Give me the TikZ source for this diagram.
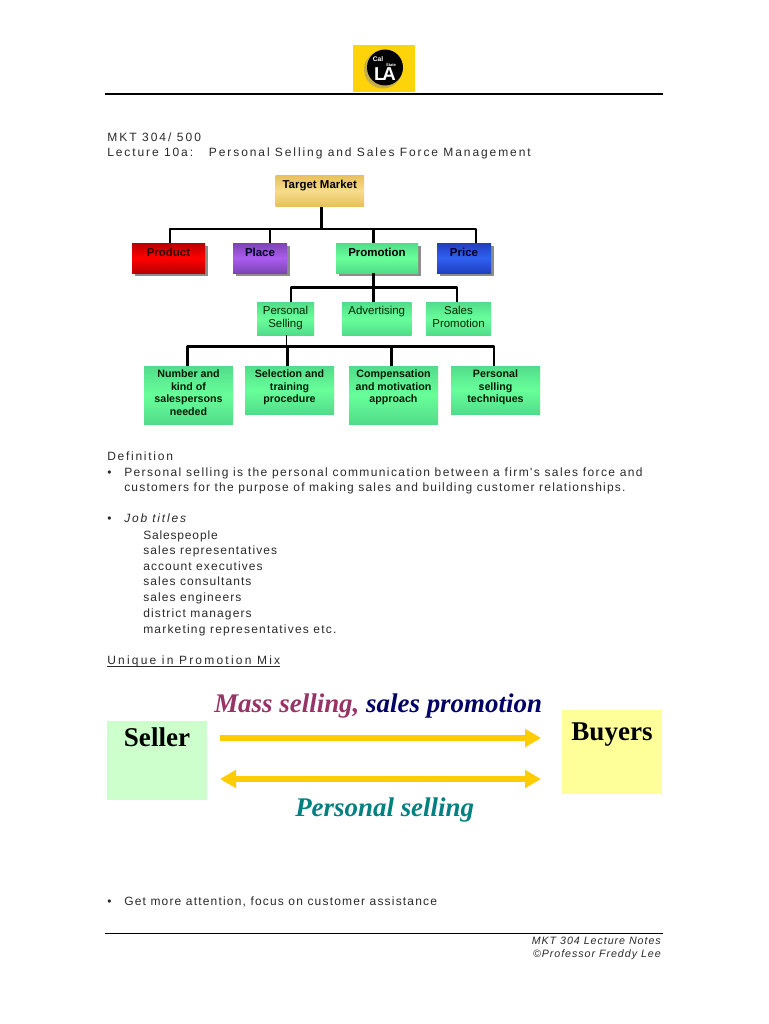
\documentclass[tikz,border=0pt]{standalone}
\usepackage{fontspec}
\usetikzlibrary{arrows.meta,shadows}
\setmainfont{Liberation Sans}
\newfontfamily\bodyf{Liberation Sans}
\newfontfamily\boxf{Liberation Sans}
\newfontfamily\serf{Liberation Serif}
\newcommand{\bxt}[4]{\parbox[c][\dimexpr #2pt*3/4\relax][t]{\dimexpr #1pt*3/4\relax}{\vspace*{\dimexpr #3pt*3/4\relax}\centering #4\par}}
\definecolor{bodyc}{HTML}{2A2A2A}
\tikzset{
  body/.style={anchor=base west,inner sep=0pt,font=\bodyf\fontsize{9pt}{11pt}\selectfont\addfontfeature{LetterSpace=#1},text=bodyc},
  body/.default=10,
  foot/.style={anchor=base east,inner sep=0pt,font=\bodyf\itshape\fontsize{8pt}{10pt}\selectfont\addfontfeature{LetterSpace=9},text=bodyc},
  conn/.style={draw=black,line width=1.8pt,line join=round},
  thinconn/.style={draw=black,line width=.8pt},
  tbox/.style={anchor=north west,inner sep=0pt,outer sep=0pt,text=black},
  mix/.style={font=\boxf\bfseries\fontsize{8.6pt}{10pt}\selectfont},
  shadowed/.style={drop shadow={shadow xshift=2.2pt,shadow yshift=-2.2pt,fill=black,opacity=.45}},
  gold/.style={tbox,mix,top color=gold1,bottom color=gold1,middle color=gold2,shading angle=0},
  redb/.style={tbox,mix,shadowed,top color=red2,bottom color=red2,middle color=red,text=black!80!red},
  purb/.style={tbox,mix,shadowed,top color=pur1,bottom color=pur1,middle color=pur2,text=black!85!blue},
  grnb/.style={tbox,mix,shadowed,top color=grn1,bottom color=grn1,middle color=grn2},
  blub/.style={tbox,mix,shadowed,top color=blu1,bottom color=blu1,middle color=blu2,text=black!85!blue},
  lite/.style={tbox,top color=grn1,bottom color=grn1,middle color=grn2,font=\boxf\fontsize{8.6pt}{9.9pt}\selectfont,text=black!85!green},
  deep/.style={tbox,font=\boxf\bfseries\fontsize{8pt}{9.6pt}\selectfont,top color=grn1,bottom color=grn1,middle color=grn2,text=black!90!green},
  bigbox/.style={tbox,font=\serf\bfseries\fontsize{20.3pt}{24pt}\selectfont},
  fatarrow/.style={draw=arrowc,line width=3.9pt},
  bigword/.style={inner sep=0pt,anchor=base west,font=\serf\bfseries\itshape\fontsize{20.2pt}{24pt}\selectfont}
}
\definecolor{gold1}{HTML}{E8C05A}\definecolor{gold2}{HTML}{F6DC8C}
\definecolor{red2}{HTML}{B80000}
\definecolor{pur1}{HTML}{7B44B4}\definecolor{pur2}{HTML}{AC5CF0}
\definecolor{grn1}{HTML}{52DC8A}\definecolor{grn2}{HTML}{68FF9A}
\definecolor{blu1}{HTML}{1F3FC0}\definecolor{blu2}{HTML}{3060F0}
\definecolor{arrowc}{HTML}{FFCC00}
\definecolor{logoy}{HTML}{FFD30A}
\definecolor{massc}{HTML}{993366}\definecolor{navyc}{HTML}{000066}\definecolor{tealc}{HTML}{008080}
\definecolor{sellc}{HTML}{CCFFCC}\definecolor{buyc}{HTML}{FFFF99}
\begin{document}
\begin{tikzpicture}[x=.75pt,y=-.75pt]
\useasboundingbox (0,0) rectangle (768,1024);
\fill[white] (0,0) rectangle (768,1024);
% logo
\node[fill=logoy,minimum width=46pt,minimum height=35.25pt,inner sep=0pt,anchor=north west] (logobg) at (353,45) {};
\fill[black!45,opacity=.5] (383,69.5) circle (19);
\node[circle,fill=black,minimum size=27pt,inner sep=0pt] (logoc) at (385,67.5) {};
\node[inner sep=0pt,text=white,font=\boxf\bfseries\fontsize{5pt}{5pt}\selectfont] (logocal) at (378,59) {Cal};
\node[inner sep=0pt,text=white,font=\boxf\bfseries\fontsize{3pt}{4pt}\selectfont] (logostate) at (391,65) {State};
\node[inner sep=0pt,text=white,font=\boxf\bfseries\fontsize{14pt}{14pt}\selectfont] (logola) at (385,74) {L\kern-2.5pt A};
% rules
\coordinate (r1a) at (105,94); \coordinate (r1b) at (663,94);
\draw[line width=1.5pt] (r1a) -- (r1b);
\coordinate (r2a) at (105,933.5); \coordinate (r2b) at (663,933.5);
\draw[line width=.75pt] (r2a) -- (r2b);
% heading
\node[body=17] (t1) at (107,141) {MKT 304/ 500};
\node[body=16] (t2) at (107,156) {Lecture 10a:\ \ \ Personal Selling and Sales Force Management};
% chart boxes
\node[gold] (target) at (275.5,175) {\bxt{88.5}{31.5}{5}{Target Market}};
\node[redb] (product) at (132,243) {\bxt{73}{30}{5}{Product}};
\node[purb] (place) at (233,243) {\bxt{54}{30}{5}{Place}};
\node[grnb] (promo) at (336,243) {\bxt{82}{30}{5}{Promotion}};
\node[blub] (price) at (437,243) {\bxt{54}{30}{5}{Price}};
\node[lite] (pers) at (257,302) {\bxt{57}{33}{4}{Personal\\Selling}};
\node[lite] (adv) at (342,302) {\bxt{69.5}{33}{4}{Advertising}};
\node[lite] (sales) at (426,302) {\bxt{65}{33}{4}{Sales\\Promotion}};
\node[deep] (num) at (144,366) {\bxt{89}{58}{3.5}{Number and\\kind of\\salespersons\\needed}};
\node[deep] (sel) at (245,366) {\bxt{89}{48}{3.5}{Selection and\\training\\procedure}};
\node[deep] (comp) at (349,366) {\bxt{89}{58}{3.5}{Compensation\\and motivation\\approach}};
\node[deep] (tech) at (451,366) {\bxt{89}{48}{3.5}{Personal\\selling\\techniques}};
% connectors
\coordinate (busA) at (321.5,229);
\draw[conn] (busA|-target.south) -- (busA);
\coordinate (dA1) at (170,229); \coordinate (dA2) at (270,229); \coordinate (dA3) at (373.5,229); \coordinate (dA4) at (476,229);
\draw[conn] (dA1|-product.north) -- (dA1) -- (dA4) -- (dA4|-price.north);
\draw[conn] (dA2) -- (dA2|-place.north);
\draw[conn] (dA3) -- (dA3|-promo.north);
\coordinate (busB) at (373.5,287.5);
\draw[conn] (busB|-promo.south) -- (busB);
\coordinate (dB1) at (291,287.5); \coordinate (dB3) at (457,287.5);
\draw[conn] (dB1|-pers.north) -- (dB1) -- (dB3) -- (dB3|-sales.north);
\draw[conn] (busB) -- (busB|-adv.north);
\coordinate (busC) at (286.5,346.5);
\draw[thinconn] (busC|-pers.south) -- (busC);
\coordinate (dC1) at (187.5,346.5); \coordinate (dC2) at (287.5,346.5); \coordinate (dC3) at (391.5,346.5); \coordinate (dC4) at (494,346.5);
\draw[conn] (dC1|-num.north) -- (dC1) -- (dC4) -- (dC4|-tech.north);
\draw[conn] (dC2) -- (dC2|-sel.north);
\draw[conn] (dC3) -- (dC3|-comp.north);
% text
\node[body=14.5] (d0) at (107,460) {Definition};
\node[body] (d1b) at (107,476) {•};
\node[body=11.6] (d1) at (124,476) {Personal selling is the personal communication between a firm's sales force and};
\node[body=10] (d2) at (124,491) {customers for the purpose of making sales and building customer relationships.};
\node[body] (j0b) at (107,522) {•};
\node[body=15,font=\bodyf\itshape\fontsize{9pt}{11pt}\selectfont\addfontfeature{LetterSpace=15}] (j0) at (124,522) {Job titles};
\node[body=7] (j1) at (143,539) {Salespeople};
\node[body=9] (j2) at (143,554) {sales representatives};
\node[body=9] (j3) at (143,570) {account executives};
\node[body=9] (j4) at (143,585) {sales consultants};
\node[body=9] (j5) at (143,601) {sales engineers};
\node[body=9.5] (j6) at (143,617) {district managers};
\node[body=10] (j7) at (143,633) {marketing representatives etc.};
\node[body=18.5] (u0) at (107,664) {Unique in Promotion Mix};
\coordinate (u1) at (107,666); \coordinate (u2) at (280,666);
\draw[line width=.5pt,bodyc] (u1) -- (u2);
% lower diagram
\node[bigbox,fill=sellc] (seller) at (107,721) {\bxt{100}{79}{7}{Seller}};
\node[bigbox,fill=buyc] (buyers) at (562,710) {\bxt{100}{84}{13}{Buyers}};
\node[bigword] (mass) at (214,712.5) {\textcolor{massc}{Mass selling,} \textcolor{navyc}{sales promotion}};
\node[bigword,text=tealc] (psell) at (295,816) {Personal selling};
\coordinate (a1) at (220,738); \coordinate (a2) at (541,738);
\coordinate (b1) at (220,779); \coordinate (b2) at (541,779);
\draw[fatarrow,-{Triangle[length=12pt,width=13pt]}] (a1) -- (a2);
\draw[fatarrow,{Triangle[length=12pt,width=13pt]}-{Triangle[length=12pt,width=13pt]}] (b1) -- (b2);
% bottom
\node[body] (g0b) at (107,905) {•};
\node[body=9.9] (g0) at (124,905) {Get more attention, focus on customer assistance};
\node[foot] (f1) at (661,944) {MKT 304 Lecture Notes};
\node[foot] (f2) at (661,957) {©Professor Freddy Lee};
\end{tikzpicture}
\end{document}
